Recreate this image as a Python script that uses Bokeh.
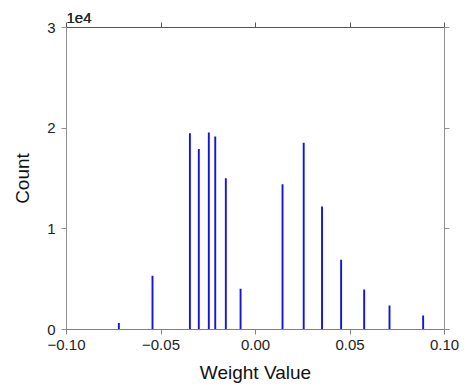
from bokeh.plotting import figure
from bokeh.models import LinearAxis, FixedTicker, Range1d
from bokeh.embed import file_html
from bokeh.resources import INLINE

weights = [-0.0723, -0.0545, -0.0347, -0.0300, -0.0247, -0.0213, -0.0157, -0.0079,
           0.0143, 0.0255, 0.0352, 0.0453, 0.0575, 0.0709, 0.0887]
counts = [650, 5350, 19490, 17940, 19560, 19160, 15030, 4060,
          14430, 18540, 12220, 6940, 3970, 2380, 1390]
x_ticks = [-0.10, -0.05, 0.0, 0.05, 0.10]
x_tick_labels = ["\u22120.10", "\u22120.05", "0.00", "0.05", "0.10"]
y_ticks = [0, 10000, 20000, 30000]
y_tick_labels = ["0", "1", "2", "3"]

FONT = "Liberation Sans"

p = figure(width=474, height=387, output_backend="svg", toolbar_location=None,
           x_range=Range1d(-0.10, 0.10), y_range=Range1d(0, 30000),
           min_border_left=66, min_border_right=30, min_border_top=27, min_border_bottom=58)
p.grid.visible = False
p.outline_line_color = None
p.background_fill_color = "white"
p.border_fill_color = "white"

p.segment(x0=weights, y0=[0] * len(weights), x1=weights, y1=counts,
          line_color="#1414dc", line_width=1.9)

def style(ax, color, labels=True):
    ax.axis_line_color = color
    ax.major_tick_line_color = color
    ax.minor_tick_line_color = None
    ax.major_tick_in = 0
    ax.major_tick_out = 5
    ax.major_label_text_font = FONT
    ax.major_label_text_font_size = "15px"
    ax.major_label_text_color = "#222222"
    ax.axis_label_text_font = FONT
    ax.axis_label_text_font_size = "19px"
    ax.axis_label_text_font_style = "normal"
    ax.axis_label_text_color = "#111111"
    if not labels:
        ax.major_label_text_font_size = "0px"
        ax.major_label_text_color = None

xa = p.xaxis[0]
xa.ticker = FixedTicker(ticks=x_ticks)
xa.major_label_overrides = {t: l for t, l in zip(x_ticks, x_tick_labels)}
xa.axis_label = "Weight Value"
style(xa, "#808080")
xa.major_label_standoff = 5
xa.axis_label_standoff = 9

ya = p.yaxis[0]
ya.ticker = FixedTicker(ticks=y_ticks)
ya.major_label_overrides = {t: l for t, l in zip(y_ticks, y_tick_labels)}
ya.axis_label = "Count"
style(ya, "#909090")
ya.major_label_standoff = 6
ya.axis_label_standoff = 11

top = LinearAxis(ticker=FixedTicker(ticks=x_ticks))
style(top, "#555555", labels=False)
top.major_label_standoff = 0
right = LinearAxis(ticker=FixedTicker(ticks=y_ticks))
style(right, "#909090", labels=False)
p.add_layout(right, "right")

p.title.text = "1e4"
p.title.align = "left"
p.title.vertical_align = "bottom"
p.title.text_font = FONT
p.title.text_font_size = "15px"
p.title.text_font_style = "normal"
p.title.text_color = "#222222"
p.title.standoff = -8
p.title.offset = 0
p.add_layout(top, "above")
p.above = [top, p.title]

open("out.html", "w").write(file_html(p, INLINE))
